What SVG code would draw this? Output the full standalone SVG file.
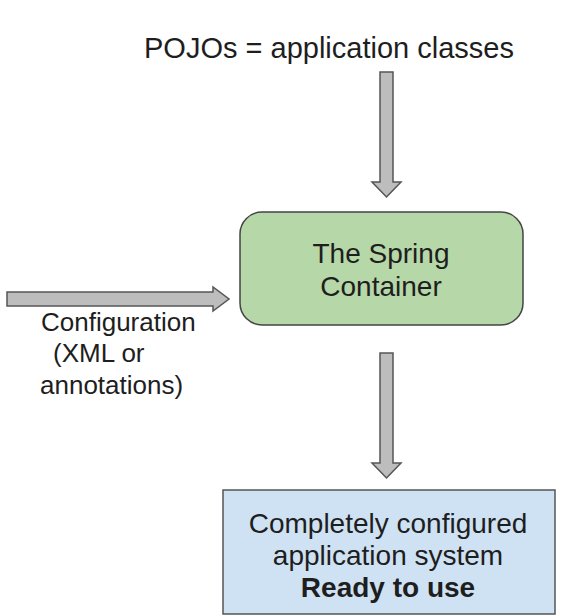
<svg xmlns="http://www.w3.org/2000/svg" width="568" height="616" viewBox="0 0 568 616">
<style>
text{font-family:"Liberation Sans",Arial,sans-serif;fill:#1e1e1e;}
.t{font-size:28px;text-anchor:middle;}
.arrow{fill:#bdbdbd;stroke:#555;stroke-width:1.5;stroke-linejoin:miter;}
</style>
<rect width="568" height="616" fill="#fff"/>
<g id="connectors">
<path class="arrow" d="M380,72 H393 V182 H401 L386.5,197 L372,182 H380 Z"/>
<path class="arrow" d="M380,353 H393 V463 H401 L386.5,478 L372,463 H380 Z"/>
<path class="arrow" d="M7,292 H213 V287 L229,299 L213,311 V306 H7 Z"/>
</g>
<g id="pojos">
<text x="329" y="58" style="font-size:29px;text-anchor:middle">POJOs = application classes</text>
</g>
<g id="container">
<rect x="240" y="212" width="283" height="113" rx="22" fill="#b6d7a8" stroke="#444" stroke-width="1.5"/>
<text class="t" x="381" y="263">The Spring</text>
<text class="t" x="381" y="296">Container</text>
</g>
<g id="configuration">
<text x="41" y="331" style="font-size:26px">Configuration</text>
<text x="53" y="362" style="font-size:26px">(XML or</text>
<text x="40" y="394" style="font-size:26px">annotations)</text>
</g>
<g id="result">
<rect x="223" y="490" width="332" height="124" fill="#cfe2f3" stroke="#555" stroke-width="1.5"/>
<text class="t" x="388" y="533">Completely configured</text>
<text class="t" x="388" y="565">application system</text>
<text class="t" x="388" y="597" style="font-weight:bold">Ready to use</text>
</g>
</svg>
